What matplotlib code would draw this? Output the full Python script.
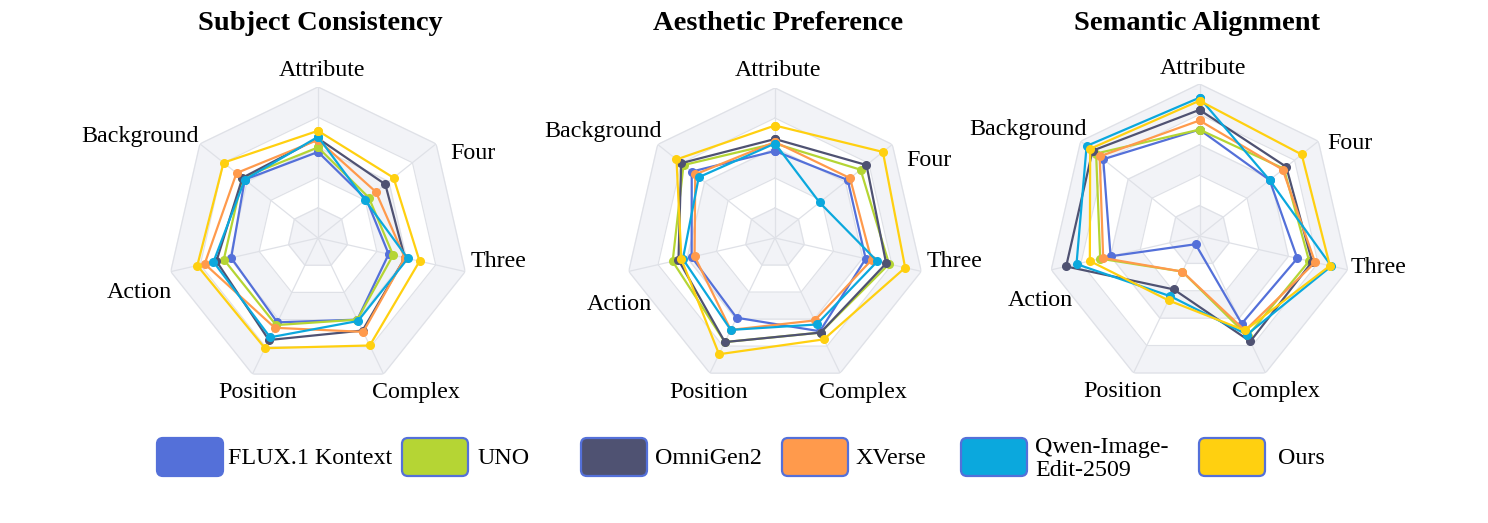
import numpy as np
import matplotlib.pyplot as plt
from matplotlib.patches import FancyBboxPatch

plt.rcParams['font.family'] = ['Liberation Serif', 'DejaVu Serif']

# ---- data (scores, radar max = 100) ----
categories = ['Attribute', 'Four', 'Three', 'Complex', 'Position', 'Action', 'Background']
models = ['FLUX.1 Kontext', 'UNO', 'OmniGen2', 'XVerse', 'Qwen-Image-\nEdit-2509', 'Ours']
titles = ['Subject Consistency', 'Aesthetic Preference', 'Semantic Alignment']

subject = [
    [57, 41, 48, 60, 62, 59, 62],   # FLUX.1 Kontext
    [60, 43, 51, 60, 64, 64, 64],   # UNO
    [66, 57, 59, 68, 75, 69, 64],   # OmniGen2
    [65, 49, 59, 69, 66, 77, 69],   # XVerse
    [67, 40, 61, 61, 73, 71, 62],   # Qwen-Image-Edit-2509
    [71, 64, 69, 79, 81, 82, 80],   # Ours
]
aesthetic = [
    [58, 62, 62, 69, 59, 57, 71],
    [63, 73, 78, 70, 77, 70, 78],
    [66, 78, 76, 70, 77, 66, 80],
    [64, 64, 66, 61, 68, 55, 68],
    [63, 38, 70, 64, 68, 63, 65],
    [75, 92, 89, 75, 86, 64, 84],
]
semantic = [
    [70, 59, 66, 64, 6, 60, 81],
    [70, 71, 74, 73, 26, 67, 87],
    [83, 73, 76, 77, 39, 90, 90],
    [76, 70, 78, 69, 26, 65, 84],
    [91, 59, 89, 72, 44, 83, 95],
    [89, 86, 88, 69, 47, 74, 92],
]
panels = [subject, aesthetic, semantic]

colors = ['#5470d9', '#b5d534', '#4f5272', '#ff9a4c', '#0ba8dd', '#ffd010']

# ---- layout (pixels) ----
W, H = 1488, 523
centers = [(318, 238, 151), (775, 238, 150), (1199.5, 236, 152)]
title_x = [320, 778, 1197]
# label offsets (px) from the outer vertex, per panel
label_off = [
    [(4, -17), (37, 10), (33, -10), (32, 18), (5, 18), (-31, 21), (-60, -7)],
    [(3, -18), (37, 16), (33, -10), (23, 19), (-1, 19), (-9, 33), (-55, -13)],
    [(4, -16), (32, 2), (31, -2), (10, 19), (-11, 19), (-11, 31), (-53, -12)],
]

band = '#f2f3f7'
gridc = '#dfe1e7'

fig = plt.figure(figsize=(W / 100, H / 100), dpi=100)

n = len(categories)
theta = np.linspace(0, 2 * np.pi, n, endpoint=False)
th = np.append(theta, theta[0])

for p, data in enumerate(panels):
    cx, cy, r = centers[p]
    ax = fig.add_axes([(cx - r) / W, (H - cy - r) / H, 2 * r / W, 2 * r / H], projection='polar')
    ax.set_theta_offset(np.pi / 2)
    ax.set_theta_direction(-1)
    ax.set_ylim(0, 100)
    ax.set_axis_off()

    # rings, alternating shade
    for k, rr in enumerate([100, 80, 60, 40, 20]):
        fc = band if k % 2 == 0 else 'white'
        ax.fill(th, [rr] * (n + 1), color=fc, zorder=0)
        ax.plot(th, [rr] * (n + 1), color=gridc, lw=0.9, zorder=1)
    for t in theta:
        ax.plot([t, t], [0, 100], color=gridc, lw=0.9, zorder=1)

    for i, vals in enumerate(data):
        v = vals + [vals[0]]
        ax.plot(th, v, '-o', color=colors[i], lw=1.6, ms=5.5, clip_on=False, zorder=3 + i)

    for j, cat in enumerate(categories):
        dx, dy = label_off[p][j]
        ax.annotate(cat, xy=(theta[j], 100), xytext=(dx, -dy), textcoords='offset pixels',
                    ha='center', va='center', fontsize=17.3, annotation_clip=False)

    fig.text(title_x[p] / W, 1 - 24 / H, titles[p], ha='center', va='center',
             fontsize=20.5, fontweight='bold')

# ---- legend ----
leg_x = [157, 402, 581, 782, 961, 1199]
txt_x = [228, 478, 655, 855, 1035, 1278]
for i, name in enumerate(models):
    box = FancyBboxPatch((leg_x[i] / 100, (H - 476) / 100), 0.66, 0.38,
                         boxstyle='round,pad=0,rounding_size=0.06',
                         facecolor=colors[i], edgecolor='#5470d9', lw=1.6,
                         transform=fig.dpi_scale_trans)
    fig.add_artist(box)
    fig.text(txt_x[i] / W, 1 - 459 / H, name, ha='left', va='center',
             fontsize=17.3, linespacing=1.15)

fig.savefig('out.png', dpi=100)
